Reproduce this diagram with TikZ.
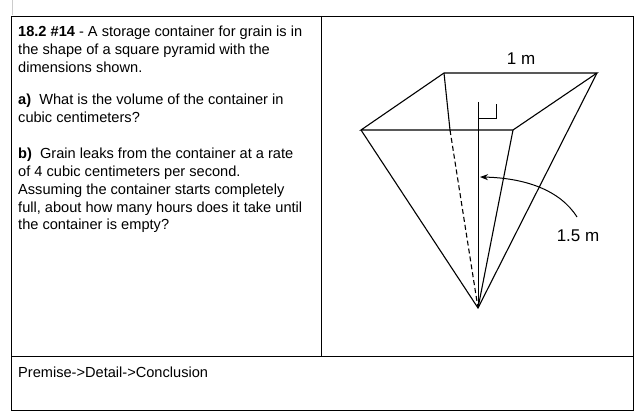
\documentclass[tikz,border=0pt]{standalone}
\usepackage{fontspec}
\setmainfont{Liberation Sans}
\usetikzlibrary{arrows.meta}
\begin{document}
\begin{tikzpicture}[x=1pt,y=-1pt,
  txt/.style={anchor=north west,inner sep=0pt,align=left,font=\fontsize{14.6}{17.8}\selectfont},
  edge/.style={line width=1.1pt},
  lbl/.style={font=\fontsize{17}{19}\selectfont,inner sep=0pt}]
\useasboundingbox (0,0) rectangle (639,419);
\draw[gray!40,line width=1pt] (12,0) -- (12,15);
\draw[line width=0.9pt] (11,16) rectangle (633,410);
\draw[line width=0.9pt] (11,356) -- (633,356);
\draw[line width=0.9pt] (321,16) -- (321,356);
\node[txt] (t1) at (18,26) {\textbf{18.2 \#14} - A storage container for grain is in\\the shape of a square pyramid with the\\dimensions shown.};
\node[txt] (t2) at (18,94) {\textbf{a)}\ \ What is the volume of the container in\\cubic centimeters?};
\node[txt] (t3) at (18,148) {\textbf{b)}\ \ Grain leaks from the container at a rate\\of 4 cubic centimeters per second.\\Assuming the container starts completely\\full, about how many hours does it take until\\the container is empty?};
\node[txt] (t4) at (18,367) {Premise->Detail->Conclusion};
% pyramid
\coordinate (BL) at (444,73);
\coordinate (BR) at (597,73);
\coordinate (FL) at (361,130);
\coordinate (FR) at (513,130);
\coordinate (A) at (478,308);
\coordinate (H) at (478,102);
\coordinate (D) at (450,130);
\draw[edge] (BL) -- (BR) -- (FR) -- (FL) -- cycle;
\draw[edge] (FL) -- (A) -- (BR);
\draw[edge] (FR) -- (A);
\draw[edge] (BL) -- (D);
\draw[edge,dash pattern=on 5pt off 3pt] (D) -- (A);
\draw[line width=0.9pt] (H) -- (A);
\draw[line width=0.9pt] (478,118) -- (496,118) -- (496,104);
\node[lbl] (l1) at (521,59) {1 m};
\node[lbl] (l2) at (578,236) {1.5 m};
\draw[line width=1pt,-{Stealth[length=8pt,width=6pt]}] (577,217) .. controls (560,190) and (525,178) .. (480,177);
\end{tikzpicture}
\end{document}
